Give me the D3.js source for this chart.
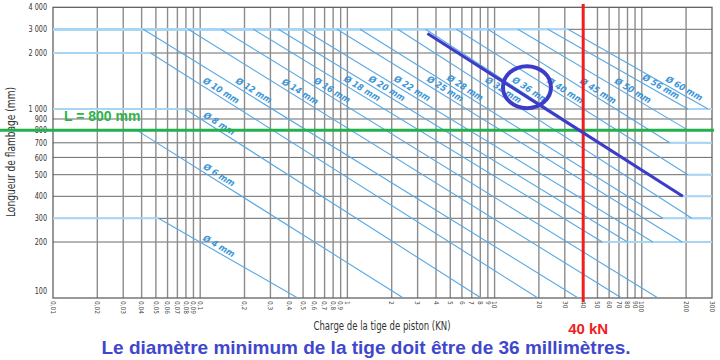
<!DOCTYPE html>
<html>
<head>
<meta charset="utf-8">
<script src="https://cdn.jsdelivr.net/npm/d3@7/dist/d3.min.js"></script>
<style>
  body { margin: 0; background: #fff; }
  svg { display: block; }
</style>
</head>
<body>
<svg width="720" height="360"></svg>
<script>
// axes
var xTicks = [0.01, 0.02, 0.03, 0.04, 0.05, 0.06, 0.07, 0.08, 0.09,
    0.1, 0.2, 0.3, 0.4, 0.5, 0.6, 0.7, 0.8, 0.9,
    1, 2, 3, 4, 5, 6, 7, 8, 9,
    10, 20, 30, 40, 50, 60, 70, 80, 90,
    100, 200, 300]
var yTicks = [100, 200, 300, 400, 500, 600, 700, 800, 900, 1000, 2000, 3000, 4000]
var yTickLabels = ["100", "200", "300", "400", "500", "600", "700", "800", "900",
    "1 000", "2 000", "3 000", "4 000"]

// rod lines: top length (mm), load where the slope starts (kN),
// load where it stops (kN) and the length there (mm)
var diameters = [4, 6, 8, 10, 12, 14, 16, 18, 20, 22, 25, 28, 32, 36, 40, 45, 50, 56, 60]
var topLength = [300, 800, 1000, 2000, 3000, 3000, 3000, 3000, 3000, 3000,
    3000, 3000, 3000, 3000, 3000, 3000, 3000, 3000, 3000]
var startLoad = [0.052, 0.037, 0.079, 0.046, 0.041, 0.083, 0.14, 0.23, 0.34, 0.5,
    0.85, 1.22, 2.2, 3.4, 5.5, 9, 14.4, 23, 31.5]
var endLoad = [0.46, 2.4, 8.1, 19.7, 37, 73, 129, 54, 80, 119,
    188, 139, 219, 190, 206, 155, 206, 206, 282]
var endLength = [100, 100, 100, 100, 100, 100, 100, 200, 200, 200,
    200, 300, 300, 400, 500, 700, 800, 1000, 1000]
var labelLoad = [0.128, 0.128, 0.128, 0.132, 0.22, 0.455, 0.75, 1.2, 1.77, 2.62,
    4.4, 6, 10.9, 16.6, 28.7, 48, 83, 129, 185]

// reading for the example
var readLine = [[3.5, 2790], [190, 400]]
var chosenLoad = 40, chosenLength = 800
var circleAt = [16.6, 1310]

var svg = d3.select("svg")

// the printed grid is not evenly spaced in height, so the log scale is pinned at its labelled rows
var sx = d3.scaleLog().domain([0.01, 300]).range([53, 712])
var sy = d3.scaleLog()
    .domain([100, 200, 300, 400, 500, 1000, 2000, 3000, 4000])
    .range([298, 242, 218.3, 196.3, 174.7, 109, 53, 29.3, 7.3])

var cond = "'DejaVu Sans Condensed', 'DejaVu Sans', sans-serif"
var arial = "'Liberation Sans', Arial, sans-serif"

// grid
svg.append("g").selectAll("line").data(yTicks.slice(1, -1)).enter().append("line")
    .attr("x1", sx(0.01)).attr("x2", sx(300))
    .attr("y1", d => sy(d)).attr("y2", d => sy(d))
    .attr("stroke", "#6a6a6a").attr("stroke-width", 1)

svg.append("g").selectAll("line").data(xTicks.slice(1, -1)).enter().append("line")
    .attr("x1", d => sx(d)).attr("x2", d => sx(d))
    .attr("y1", sy(4000)).attr("y2", sy(100))
    .attr("stroke", "#8c8c8c").attr("stroke-width", 1.4)

svg.append("rect")
    .attr("x", sx(0.01)).attr("y", sy(4000))
    .attr("width", sx(300) - sx(0.01)).attr("height", sy(100) - sy(4000))
    .attr("fill", "none").attr("stroke", "#555").attr("stroke-width", 1.2)

// rod lines
var rods = diameters.map((d, i) => ({
    d: d, top: topLength[i], s: startLoad[i], e: endLoad[i], low: endLength[i], lab: labelLoad[i]
}))

var flat = svg.append("g").attr("stroke", "#a9d5f4").attr("stroke-width", 2)
rods.forEach(function (r) {
    flat.append("line").attr("x1", sx(0.01)).attr("x2", sx(r.s))
        .attr("y1", sy(r.top)).attr("y2", sy(r.top))
    if (r.low > 100) {
        flat.append("line").attr("x1", sx(r.e)).attr("x2", sx(300))
            .attr("y1", sy(r.low)).attr("y2", sy(r.low))
    }
})

svg.append("g").selectAll("line").data(rods).enter().append("line")
    .attr("x1", r => sx(r.s)).attr("y1", r => sy(r.top))
    .attr("x2", r => sx(r.e)).attr("y2", r => sy(r.low))
    .attr("stroke", "#58a8e4").attr("stroke-width", 1.1)

svg.append("g").selectAll("text").data(rods).enter().append("text")
    .attr("transform", function (r) {
        var x1 = sx(r.s), y1 = sy(r.top), x2 = sx(r.e), y2 = sy(r.low)
        var x = sx(r.lab), y = y1 + (x - x1) * (y2 - y1) / (x2 - x1)
        var ang = Math.atan2(y2 - y1, x2 - x1) * 180 / Math.PI
        return "translate(" + x + "," + y + ") rotate(" + ang + ")"
    })
    .attr("y", -3).attr("text-anchor", "middle")
    .attr("font-family", cond).attr("font-size", 9).attr("font-weight", "bold")
    .attr("font-style", "italic").attr("fill", "#3d96d8")
    .text(r => "Ø " + r.d + " mm")

// axis labels
svg.append("g").selectAll("text").data(yTicks).enter().append("text")
    .attr("transform", d => "translate(47," + Math.min(sy(d), sy(100) - 7) + ") scale(0.8,1)")
    .attr("dy", "0.35em").attr("text-anchor", "end")
    .attr("font-family", cond).attr("font-size", 9).attr("fill", "#333")
    .text((d, i) => yTickLabels[i])

svg.append("g").selectAll("text").data(xTicks).enter().append("text")
    .attr("transform", d => "translate(" + sx(d) + ",301) rotate(90)")
    .attr("dy", "0.35em").attr("text-anchor", "start")
    .attr("font-family", cond).attr("font-size", 6.5).attr("fill", "#444")
    .text(d => String(d).replace(".", ","))

svg.append("text")
    .attr("transform", "translate(15,152) rotate(-90)")
    .attr("text-anchor", "middle").attr("textLength", 130).attr("lengthAdjust", "spacingAndGlyphs")
    .attr("font-family", cond).attr("font-size", 13).attr("fill", "#333")
    .text("Longueur de flambage (mm)")

svg.append("text")
    .attr("x", 382).attr("y", 330)
    .attr("text-anchor", "middle").attr("textLength", 137).attr("lengthAdjust", "spacingAndGlyphs")
    .attr("font-family", cond).attr("font-size", 12).attr("fill", "#333")
    .text("Charge de la tige de piston (KN)")

// chosen length and load
svg.append("line")
    .attr("x1", 0).attr("x2", sx(300) + 2)
    .attr("y1", sy(chosenLength)).attr("y2", sy(chosenLength))
    .attr("stroke", "#22b14c").attr("stroke-width", 3)

svg.append("text")
    .attr("x", 64).attr("y", sy(chosenLength) - 9)
    .attr("font-family", arial).attr("font-size", 14).attr("font-weight", "bold")
    .attr("fill", "#2db34a")
    .text("L = " + chosenLength + " mm")

svg.append("line")
    .attr("x1", sx(chosenLoad)).attr("x2", sx(chosenLoad))
    .attr("y1", 4).attr("y2", 302)
    .attr("stroke", "#f01e1e").attr("stroke-width", 3)

svg.append("text")
    .attr("x", sx(chosenLoad) + 5).attr("y", 334).attr("text-anchor", "middle")
    .attr("font-family", arial).attr("font-size", 15).attr("font-weight", "bold")
    .attr("fill", "#f01e1e")
    .text(chosenLoad + " kN")

svg.append("line")
    .attr("x1", sx(readLine[0][0])).attr("y1", sy(readLine[0][1]))
    .attr("x2", sx(readLine[1][0])).attr("y2", sy(readLine[1][1]))
    .attr("stroke", "#3c3cc8").attr("stroke-width", 3)

svg.append("ellipse")
    .attr("cx", sx(circleAt[0])).attr("cy", sy(circleAt[1]))
    .attr("rx", 24).attr("ry", 21)
    .attr("fill", "none").attr("stroke", "#3c3cc8").attr("stroke-width", 4)

svg.append("text")
    .attr("x", 366).attr("y", 354).attr("text-anchor", "middle")
    .attr("font-family", arial).attr("font-size", 19).attr("font-weight", "bold")
    .attr("fill", "#3f48cc")
    .text("Le diamètre minimum de la tige doit être de 36 millimètres.")
</script>
</body>
</html>
